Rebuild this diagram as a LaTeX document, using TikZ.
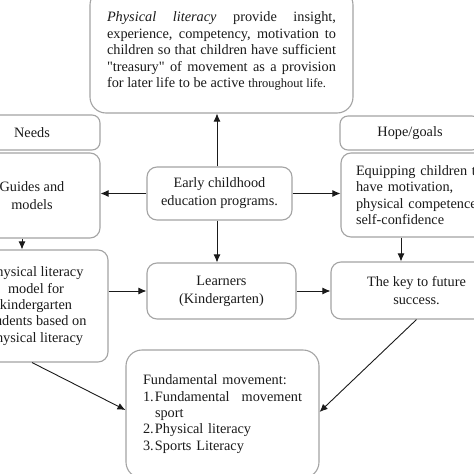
\documentclass[tikz,border=0pt]{standalone}
\usepackage{fontspec}
\setmainfont{Liberation Serif}[Ligatures=TeXOff]
\usetikzlibrary{arrows.meta}
\definecolor{boxgray}{HTML}{A4A4A4}
\definecolor{ink}{HTML}{1A1A1A}
\begin{document}
\begin{tikzpicture}[x=1pt,y=-1pt,
  box/.style={draw=boxgray, line width=1.1pt, rounded corners=10pt, inner sep=0pt,
    text=ink, font=\fontsize{14.3}{16.4}\selectfont},
  wide/.style={font=\fontsize{14.3}{18}\selectfont},
  conn/.style={draw=ink, line width=0.9pt, -{Latex[length=8pt,width=7pt]}}
]
\fill[white] (0,0) rectangle (474,474);
\useasboundingbox (0,0) rectangle (474,474);
\clip (0,0) rectangle (474,474);

\node[box, minimum width=263pt, minimum height=124pt, rounded corners=16pt, align=left] (top) at (221.5,51)
 {\makebox[229pt][s]{\textit{Physical literacy} provide insight,}\\
  \makebox[229pt][s]{experience, competency, motivation to}\\
  \makebox[229pt][s]{children so that children have sufficient}\\
  \makebox[229pt][s]{"treasury" of movement as a provision}\\
  for later life to be active {\fontsize{12.5}{16.4}\selectfont throughout life.}};

\node[box, minimum width=136pt, minimum height=35pt, rounded corners=8pt] (needs) at (32,132.5) {Needs};
\node[box, minimum width=140pt, minimum height=34pt, rounded corners=8pt] (hope) at (410,133) {Hope/goals};

\node[box, wide, minimum width=136pt, minimum height=85pt, align=center] (guides) at (32,195.5)
 {Guides and\\models};
\node[box, wide, minimum width=145pt, minimum height=53pt, align=center] (early) at (219.5,193.5)
 {Early childhood\\education programs.};
\node[box, minimum width=180pt, minimum height=84pt, text width=150pt, align=left] (equip) at (431,195)
 {Equipping children to\\have motivation,\\physical competence,\\self-confidence};

\node[box, minimum width=144pt, minimum height=112pt, align=center] (phys) at (36,306)
 {Physical literacy\\model for\\kindergarten\\students based on\\physical literacy};
\node[box, wide, minimum width=149pt, minimum height=56pt, align=center] (learn) at (221.5,291)
 {Learners\\(Kindergarten)};
\node[box, wide, minimum width=171pt, minimum height=57pt, align=center] (key) at (416.5,290.5)
 {The key to future\\success.};

\node[box, minimum width=193pt, minimum height=128pt, rounded corners=16pt, text width=159pt, align=left] (fund) at (222.5,414)
 {Fundamental movement:\\
  \makebox[12pt][l]{1.}Fundamental\hfill movement\\
  \hspace*{12pt}sport\\
  \makebox[12pt][l]{2.}Physical literacy\\
  \makebox[12pt][l]{3.}Sports Literacy};

% connectors
\draw[conn] ([xshift=-2.5pt]early.north) -- ([xshift=-2.5pt]early.north |- top.south);
\draw[conn] (early.west) -- (guides.east |- early.west);
\draw[conn] (early.east) -- (equip.west |- early.east);
\draw[conn] ([xshift=-2.5pt]early.south) -- ([xshift=-2.5pt]early.south |- learn.north);
\draw[conn] ([xshift=-10pt]guides.south) -- ([xshift=-10pt]guides.south |- phys.north);
\draw[conn] (phys.east |- learn.west) -- (learn.west);
\draw[conn] (learn.east) -- (key.west |- learn.east);
\draw[conn] ([xshift=-30pt]equip.south) -- ([xshift=-30pt]equip.south |- key.north);
\draw[conn] (key.south) -- ([yshift=2pt]fund.east);
\draw[conn] ([xshift=-4pt]phys.south) -- ([yshift=4pt]fund.west);
\end{tikzpicture}
\end{document}
